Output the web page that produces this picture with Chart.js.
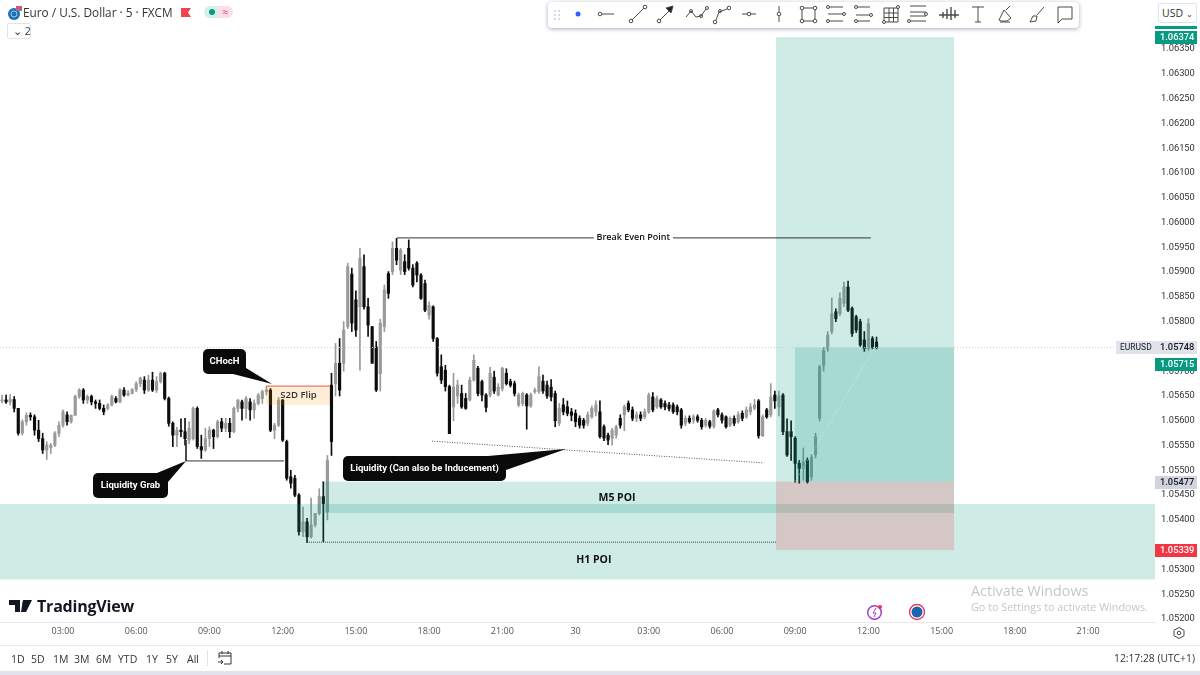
<!DOCTYPE html>
<html><head><meta charset="utf-8">
<script src="https://cdn.jsdelivr.net/npm/chart.js@4"></script>
<style>
html,body{margin:0;padding:0;background:#fff;width:1200px;height:675px;overflow:hidden;font-family:"Open Sans",sans-serif;color:#333}
#wrap{position:absolute;left:0;top:0;width:1200px;height:645px}
.a{position:absolute;white-space:nowrap}
#tb{position:absolute;left:548px;top:2px;width:531px;height:26px;background:#fff;border-radius:4px;box-shadow:0 1px 4px rgba(40,50,80,.4)}
#tb svg{position:absolute;left:0;top:0}
.bt{position:absolute;top:652px;font-size:10.5px;color:#333}
</style></head><body>
<div id="wrap"><canvas id="c" width="1200" height="645"></canvas></div>

<svg class="a" style="left:7px;top:5px" width="16" height="16"><circle cx="7" cy="9" r="6" fill="#1e6fb8"/><circle cx="7" cy="9" r="3" fill="none" stroke="#9cc8ea"/><path d="M9 1h6v3h-6z" fill="#e05060"/><path d="M9 4h6v2h-6z" fill="#7080c0"/></svg>
<div class="a" style="left:23px;top:4px;font-size:11.800px;line-height:16px;color:#333">Euro / U.S. Dollar · 5 · FXCM</div>
<svg class="a" style="left:181px;top:8px" width="10" height="9"><path d="M0 0h10l-3 4.500 3 4.500h-10z" fill="#f2444e"/></svg>
<div class="a" style="left:204px;top:6px;width:29px;height:12px;border-radius:6px;background:linear-gradient(90deg,#d5efe9 50%,#fbdfe6 50%)"></div>
<div class="a" style="left:209px;top:9px;width:6px;height:6px;border-radius:3px;background:#089981"></div>
<div class="a" style="left:222px;top:4px;font-size:11px;color:#e0447c">≈</div>
<div class="a" style="left:7px;top:23px;width:22px;height:14px;border:1px solid #e0e3eb;border-radius:2px;font-size:10.500px;line-height:14px;text-indent:5px;color:#333">⌄ 2</div>

<div id="tb"><svg width="531" height="26" fill="none" stroke="#4a4a4a" stroke-width="1">
<g fill="#ccd"><circle cx="7" cy="9" r="1" stroke="none"/><circle cx="11" cy="9" r="1" stroke="none"/><circle cx="7" cy="13" r="1" stroke="none"/><circle cx="11" cy="13" r="1" stroke="none"/><circle cx="7" cy="17" r="1" stroke="none"/><circle cx="11" cy="17" r="1" stroke="none"/></g>
<circle cx="30" cy="12" r="2.500" fill="#2962ff" stroke="none"/>
<circle cx="52" cy="12" r="1.800"/><path d="M54 12h12"/>
<circle cx="83" cy="19" r="1.800"/><circle cx="97" cy="5" r="1.800"/><path d="M84 18l12-12"/>
<circle cx="111" cy="19" r="1.800"/><path d="M112 18l12-12"/><path d="M125 4l-2 7-5-5z" fill="#222"/>
<path d="M138 15l5-6 5 6 5-1 5-7"/><circle cx="143" cy="9" r="1.500"/><circle cx="153" cy="14" r="1.500"/><circle cx="159" cy="6" r="1.500"/>
<circle cx="167" cy="20" r="1.800"/><circle cx="172" cy="9" r="1.500"/><circle cx="181" cy="6" r="1.800"/><path d="M168 18l3-8 8-3"/>
<path d="M194 12h14"/><circle cx="201" cy="12" r="1.800" fill="#fff"/>
<path d="M231 4v16"/><circle cx="231" cy="12" r="1.800" fill="#fff"/>
<rect x="254" y="6" width="13" height="13"/><circle cx="254" cy="6" r="1.800" fill="#fff"/><circle cx="267" cy="6" r="1.800" fill="#fff"/><circle cx="254" cy="19" r="1.800" fill="#fff"/><circle cx="267" cy="19" r="1.800" fill="#fff"/>
<path d="M280 5h15M280 12h15M280 19h15"/><circle cx="280" cy="5" r="1.500" fill="#fff"/><circle cx="296" cy="12" r="1.500" fill="#fff"/><circle cx="280" cy="19" r="1.500" fill="#fff"/>
<path d="M308 5h14M308 13h14M308 19h14"/><circle cx="308" cy="5" r="1.500" fill="#fff"/><circle cx="323" cy="13" r="1.500" fill="#fff"/><circle cx="308" cy="19" r="1.500" fill="#fff"/>
<path d="M336 6h14v14h-14zM336 11h14M336 15.500h14M341 6v14M345.500 6v14"/><circle cx="350" cy="5" r="1.500" fill="#fff"/><circle cx="336" cy="20" r="1.500" fill="#fff"/>
<path d="M362 4h16M362 10h16M362 14h16M362 19h16"/><circle cx="361" cy="19" r="1.500" fill="#fff"/><circle cx="378" cy="12" r="1.500" fill="#fff"/>
<path d="M392 13h3M395 10v6M399 7v10M403 5v13M407 8v8M391 13h20" stroke-width="1.400"/>
<path d="M424 5h12M430 5v15M427 20h6"/>
<path d="M451 18l5-10 7 8-4 3h-6zM452 20h10M458 8l4-4"/>
<path d="M482 20l3-6h4l-1 5zM489 13l7-8"/>
<path d="M510 5h14v12h-10l-4 4z"/>
</svg></div>

<div class="a" style="left:1158px;top:3px;width:37px;height:18px;border:1px solid #e0e3eb;border-radius:2px;font-size:10.500px;line-height:18px;text-indent:3px;background:#fff;color:#333">USD</div>
<div class="a" style="left:1186px;top:8px;font-size:8px;color:#333">⌄</div>

<svg class="a" style="left:9px;top:600px" width="26" height="13"><path d="M0 0h11v12h-5v-7h-6zM14 0h9l-6 12h-5z" fill="#131722"/><circle cx="16" cy="3" r="2.500" fill="#131722"/></svg>
<div class="a" style="left:37px;top:595px;font-size:16px;font-weight:700;color:#131722;letter-spacing:-.2px">TradingView</div>

<svg class="a" style="left:866px;top:603px" width="18" height="18" fill="none"><circle cx="8.500" cy="9.500" r="6.800" stroke="#a03cd0" stroke-width="1.500"/><path d="M10 5l-3 5h3l-2 4" stroke="#a03cd0"/><circle cx="14" cy="4" r="2" fill="#f23645"/></svg>
<svg class="a" style="left:908px;top:603px" width="18" height="18" fill="none"><circle cx="9" cy="9" r="7.500" stroke="#e0405a" stroke-width="1.400"/><circle cx="9" cy="9" r="5.500" fill="#1c64b0"/></svg>
<div class="a" style="left:971px;top:581px;font-size:14.300px;color:#c4c6c8">Activate Windows</div>
<div class="a" style="left:971px;top:599px;font-size:10.800px;color:#c4c6c8">Go to Settings to activate Windows.</div>

<svg class="a" style="left:1172px;top:626px" width="14" height="14" fill="none" stroke="#444"><path d="M7 1.500l5 2.800v5.400l-5 2.800-5-2.800v-5.400z"/><circle cx="7" cy="7" r="1.800"/></svg>

<div class="a" style="left:0;top:645px;width:1200px;height:1px;background:#e8eaef"></div>
<div class="bt" style="left:11px">1D</div><div class="bt" style="left:31px">5D</div><div class="bt" style="left:53px">1M</div><div class="bt" style="left:74px">3M</div><div class="bt" style="left:96px">6M</div><div class="bt" style="left:118px">YTD</div><div class="bt" style="left:146px">1Y</div><div class="bt" style="left:166px">5Y</div><div class="bt" style="left:187px">All</div>
<div class="a" style="left:207px;top:650px;width:1px;height:16px;background:#e0e3eb"></div>
<svg class="a" style="left:217px;top:650px" width="16" height="16" fill="none" stroke="#333"><path d="M2 8v-5h12v11h-7M2 6h12M5 1v3M11 1v3M1 12h5M4 10l2 2-2 2"/></svg>
<div class="a" style="left:1114px;top:651px;font-size:10.300px;color:#333">12:17:28 (UTC+1)</div>
<div class="a" style="left:0;top:671px;width:1200px;height:4px;background:#e0e3eb"></div>

<script>
// Candle values, in points above 1.00000 (5640 = 1.05640), one candle per ten minutes from 00:30 on the 29th.
const opens=[5640,5642,5638,5643,5625,5575,5598,5611,5608,5581,
5564,5541,5546,5551,5575,5591,5612,5598,5611,5649,
5662,5642,5649,5638,5635,5625,5625,5632,5645,5638,
5662,5652,5655,5663,5675,5682,5662,5682,5662,5679,
5696,5645,5595,5571,5581,5578,5561,5564,5625,5548,
5541,5564,5581,5568,5598,5585,5595,5578,5625,5638,
5625,5638,5622,5635,5645,5659,5662,5581,5591,5642,
5558,5487,5484,5450,5376,5396,5366,5390,5413,5447,
5416,5672,5675,5716,5716,5790,5896,5844,5830,5911,
5830,5790,5749,5695,5790,5897,5901,5948,5904,5921,
5948,5908,5918,5894,5877,5813,5830,5766,5709,5702,
5669,5628,5650,5655,5645,5642,5682,5706,5679,5652,
5652,5688,5652,5665,5696,5679,5675,5632,5635,5652,
5630,5659,5659,5680,5672,5668,5655,5595,5632,5628,
5618,5615,5605,5601,5595,5608,5618,5618,5588,5571,
5565,5571,5605,5612,5635,5622,5605,5612,5608,5618,
5648,5628,5642,5635,5632,5632,5628,5622,5595,5605,
5601,5608,5601,5591,5598,5589,5622,5612,5608,5591,
5605,5598,5615,5608,5618,5625,5640,5570,5622,5612,
5652,5628,5652,5578,5578,5565,5514,5504,5520,5487,
5531,5605,5712,5746,5780,5820,5816,5837,5870,5827,
5810,5800,5763,5746,5766,5759];
const highs=[5652,5652,5653,5649,5625,5602,5616,5616,5612,5601,
5575,5558,5554,5578,5598,5622,5618,5612,5652,5665,
5665,5652,5652,5642,5642,5632,5635,5652,5649,5665,
5667,5661,5665,5679,5688,5689,5692,5698,5689,5698,
5698,5648,5598,5587,5604,5605,5598,5628,5628,5571,
5585,5588,5583,5601,5605,5605,5605,5628,5643,5642,
5649,5645,5642,5655,5662,5669,5665,5595,5647,5643,
5561,5500,5490,5453,5426,5403,5444,5413,5463,5477,
5530,5696,5756,5766,5800,5918,5908,5862,5948,5935,
5847,5790,5760,5805,5874,5901,5961,5968,5948,5935,
5965,5915,5921,5897,5884,5840,5832,5768,5733,5712,
5672,5696,5682,5672,5655,5688,5733,5710,5682,5655,
5708,5700,5675,5708,5705,5684,5680,5656,5658,5655,
5656,5666,5709,5692,5680,5683,5660,5635,5645,5640,
5625,5622,5610,5605,5618,5630,5640,5640,5592,5575,
5585,5591,5612,5632,5640,5628,5618,5618,5624,5656,
5657,5650,5645,5640,5637,5636,5632,5625,5610,5610,
5612,5612,5605,5605,5601,5622,5625,5616,5610,5608,
5610,5618,5620,5628,5635,5643,5643,5612,5625,5675,
5660,5660,5655,5604,5600,5568,5520,5545,5525,5532,
5575,5712,5748,5780,5848,5826,5858,5880,5882,5830,
5813,5805,5780,5806,5770,5769];
const lows=[5636,5635,5632,5618,5571,5571,5591,5601,5571,5558,
5534,5522,5534,5548,5568,5587,5591,5595,5611,5645,
5635,5635,5632,5625,5622,5612,5622,5630,5636,5636,
5649,5650,5654,5659,5669,5655,5659,5659,5657,5676,
5642,5589,5548,5548,5568,5551,5554,5561,5544,5524,
5538,5548,5544,5565,5578,5578,5566,5576,5618,5601,
5605,5601,5605,5632,5635,5652,5578,5564,5588,5558,
5480,5464,5447,5369,5366,5354,5363,5386,5410,5356,
5400,5530,5650,5650,5700,5786,5780,5770,5702,5825,
5770,5716,5659,5660,5780,5847,5895,5915,5895,5895,
5904,5870,5880,5845,5820,5805,5760,5690,5675,5660,
5574,5600,5635,5625,5623,5640,5680,5650,5640,5618,
5648,5655,5650,5660,5672,5668,5650,5628,5630,5583,
5627,5655,5655,5655,5645,5640,5588,5590,5612,5610,
5600,5588,5585,5585,5590,5605,5610,5565,5560,5552,
5551,5565,5585,5580,5618,5600,5598,5600,5604,5615,
5618,5625,5625,5622,5620,5615,5612,5585,5590,5595,
5595,5597,5583,5587,5585,5585,5608,5595,5585,5588,
5590,5595,5600,5605,5612,5622,5565,5568,5605,5608,
5625,5610,5572,5528,5520,5476,5474,5480,5474,5480,
5525,5600,5700,5740,5775,5800,5812,5830,5820,5770,
5778,5750,5740,5742,5745,5745];
const closes=[5642,5638,5643,5625,5575,5598,5611,5608,5581,5564,
5541,5551,5551,5575,5591,5618,5598,5611,5649,5662,
5642,5649,5638,5635,5625,5618,5632,5649,5638,5662,
5652,5655,5663,5675,5686,5662,5682,5662,5679,5696,
5645,5595,5571,5581,5578,5564,5585,5625,5548,5541,
5564,5581,5568,5598,5585,5595,5578,5625,5642,5625,
5645,5622,5635,5652,5659,5662,5581,5591,5642,5561,
5484,5474,5450,5376,5396,5366,5390,5413,5447,5433,
5520,5558,5716,5662,5783,5911,5797,5783,5928,5830,
5793,5716,5662,5797,5864,5857,5948,5924,5944,5901,
5908,5874,5894,5847,5823,5833,5766,5696,5682,5669,
5574,5668,5672,5628,5625,5682,5722,5655,5652,5627,
5696,5660,5668,5706,5675,5672,5655,5652,5655,5630,
5652,5662,5689,5660,5650,5648,5600,5625,5618,5615,
5611,5598,5591,5591,5612,5625,5632,5568,5565,5561,
5581,5588,5591,5628,5622,5605,5612,5605,5618,5652,
5622,5645,5628,5628,5625,5618,5618,5591,5605,5598,
5608,5601,5588,5601,5589,5620,5612,5601,5588,5605,
5595,5612,5605,5622,5628,5632,5570,5608,5608,5648,
5640,5650,5578,5531,5568,5514,5504,5517,5477,5527,
5568,5709,5742,5773,5816,5806,5847,5870,5823,5776,
5783,5753,5746,5796,5748,5748];

// Axis range and tick labels
const xMin=2.51, xMax=286.46, yMin=5194, yMax=6449;
const hiddenPriceTicks=[6400,5350];

// Zones: [left, right] on the ten-minute axis, [low, high] in points
const h1Zone=[xMin,xMax,5280,5432], m5Zone=[81.67,237.05,5414,5477];
const targetZone=[193.29,237.05,5477,6374], stopZone=[193.29,237.05,5339,5477];
const profitZone=[197.96,237.05,5477,5748], flipZone=[67.9,83.64,5632,5670];

// Drawn trend and level lines
const breakEvenA=[[100.11,5969],[148.5,5969]], breakEvenB=[[167.97,5969],[216.6,5969]];
const grabLevel=[[48.24,5561],[48.24,5519],[72.33,5519]];
const lowLevel=[[78,5355],[193.29,5355]];
const inducementLine=[[108.7,5559],[190.3,5515]];
const tradeLine=[[197.96,5477],[217.6,5748]];
const lastPriceLine=[[xMin,5748],[xMax,5748]];
const flipTop=[[67.9,5670],[83.64,5670]];

const pts=a=>a.map(p=>({x:p[0],y:p[1]}));
const xs=opens.map((_,i)=>i+3);
const cols=opens.map((o,i)=>closes[i]>=o?'#9a9a9a':'#0c0c0c');
const lineDs=(d,color,w,dash)=>({type:'line',data:pts(d),borderColor:color,borderWidth:w,borderDash:dash||[],pointRadius:0,fill:false,tension:0,order:1});

const zones=[[h1Zone,'rgba(8,153,129,.2)'],[m5Zone,'rgba(8,153,129,.2)'],[targetZone,'rgba(8,153,129,.2)'],[stopZone,'rgba(242,54,69,.2)'],[profitZone,'rgba(8,153,129,.2)'],[flipZone,'rgba(255,152,0,.16)']];
const zonePlugin={id:'zones',afterDatasetDraw(ch,a){ if(a.index!==1)return;
  const {ctx,scales:{x,y}}=ch;
  zones.forEach(([z,c])=>{ctx.fillStyle=c;const L=x.getPixelForValue(z[0]),R=x.getPixelForValue(z[1]),T=y.getPixelForValue(z[3]),B=y.getPixelForValue(z[2]);ctx.fillRect(L,T,R-L,B-T);});
}};

const notes=[['M5 POI',154.2,5444],['H1 POI',148.5,5320]];
const callouts=[
 {t:'CHocH',tip:[69.4,5674],b:[203,349,43,25],base:[[233,374],[246,368]]},
 {t:'Liquidity Grab',tip:[48.24,5519],b:[93,473,75,25],base:[[157,473],[168,482]]},
 {t:'Liquidity (Can also be Inducement)',tip:[141.66,5543],b:[343,456,163,25],base:[[488,456],[506,470]]}
];
const badges=[[6374,'1.06374','#089981','#fff'],[5748,'1.05748','#e0e3eb','#131722'],[5715,'1.05715','#089981','#fff'],[5477,'1.05477','#d1d4dc','#131722'],[5339,'1.05339','#f23645','#fff']];
const labelFont='700 9.500px Roboto';
const notePlugin={id:'notes',afterDraw(ch){
  const {ctx,scales:{x,y}}=ch; ctx.save(); ctx.textBaseline='middle';
  ctx.textAlign='center';
  ctx.fillStyle='#111';ctx.font='700 10.500px "Open Sans"';
  notes.forEach(n=>ctx.fillText(n[0],x.getPixelForValue(n[1]),y.getPixelForValue(n[2])));
  ctx.font='600 9px "Open Sans"';
  ctx.fillText('Break Even Point',x.getPixelForValue(158.2),y.getPixelForValue(5969));
  ctx.font='600 9.500px "Open Sans"';ctx.fillStyle='#333';
  ctx.fillText('S2D Flip',x.getPixelForValue(75.9),y.getPixelForValue(5651));
  callouts.forEach(c=>{
    const [bx,by,bw,bh]=c.b;
    ctx.fillStyle='#0a0a0a';ctx.beginPath();ctx.roundRect(bx,by,bw,bh,5);ctx.fill();
    ctx.beginPath();ctx.moveTo(c.base[0][0],c.base[0][1]);ctx.lineTo(x.getPixelForValue(c.tip[0]),y.getPixelForValue(c.tip[1]));ctx.lineTo(c.base[1][0],c.base[1][1]);ctx.closePath();ctx.fill();
    ctx.fillStyle='#fff';ctx.font=labelFont;ctx.fillText(c.t,bx+bw/2,by+bh/2);
  });
  ctx.textAlign='left';ctx.font='500 9.300px Roboto';
  ctx.fillStyle='#089981';ctx.fillRect(1155,26,42,3);
  badges.forEach(b=>{const py=Math.round(y.getPixelForValue(b[0]));ctx.fillStyle=b[2];ctx.fillRect(1155,py-6,42,13);ctx.fillStyle=b[3];ctx.fillText(b[1],1160,py+.5);});
  const py=Math.round(y.getPixelForValue(5748));
  ctx.fillStyle='#e0e3eb';ctx.fillRect(1116,py-6,39,13);ctx.fillStyle='#131722';ctx.font='8.500px Roboto';ctx.fillText('EURUSD',1120,py+.5);
  ctx.restore();
}};

new Chart(document.getElementById('c'),{
  data:{datasets:[
    {type:'bar',data:xs.map((t,i)=>({x:t,y:[lows[i],highs[i]]})),backgroundColor:cols,barThickness:1,grouped:false,borderSkipped:false,order:6},
    {type:'bar',data:xs.map((t,i)=>({x:t,y:[opens[i],closes[i]]})),backgroundColor:cols,barThickness:2.5,grouped:false,borderSkipped:false,minBarLength:1,order:5},
    lineDs(breakEvenA,'#333',1),lineDs(breakEvenB,'#333',1),
    lineDs(grabLevel,'#333',1),lineDs(lowLevel,'#444',1,[1,1]),
    lineDs(inducementLine,'#555',1,[1,1.500]),lineDs(tradeLine,'rgba(255,255,255,.3)',1,[2,2]),
    lineDs(lastPriceLine,'#c8cbd3',1,[1,2]),lineDs(flipTop,'#ef5350',1)
  ]},
  plugins:[zonePlugin,notePlugin],
  options:{responsive:false,animation:false,devicePixelRatio:1,
    layout:{padding:0},
    plugins:{legend:{display:false},tooltip:{enabled:false}},
    scales:{
      x:{type:'linear',min:xMin,max:xMax,offset:false,border:{display:true,color:'#e8eaef'},grid:{display:false,drawTicks:false},
        afterFit(s){s.height=23;s.paddingLeft=0;s.paddingRight=0;},
        ticks:{stepSize:18,autoSkip:false,maxRotation:0,includeBounds:false,padding:4,color:'#555',font:{family:'"Open Sans"',size:9},
          callback(v){ if(v<18||v>xMax)return null; const h=v/6; if(h%24===0)return '30'; return String(h%24).padStart(2,'0')+':00'; }}},
      y:{type:'linear',position:'right',min:yMin,max:yMax,border:{display:false},grid:{display:false,drawTicks:false},
        afterFit(s){s.width=45;s.paddingTop=0;s.paddingBottom=0;},
        ticks:{stepSize:50,autoSkip:false,includeBounds:false,padding:6,color:'#333',font:{family:'Roboto',size:9.3},
          callback(v){ if(v<5200||v>6350||hiddenPriceTicks.includes(v))return null; return (1+v/100000).toFixed(5); }}}
    }
  }
});
</script>
</body></html>
